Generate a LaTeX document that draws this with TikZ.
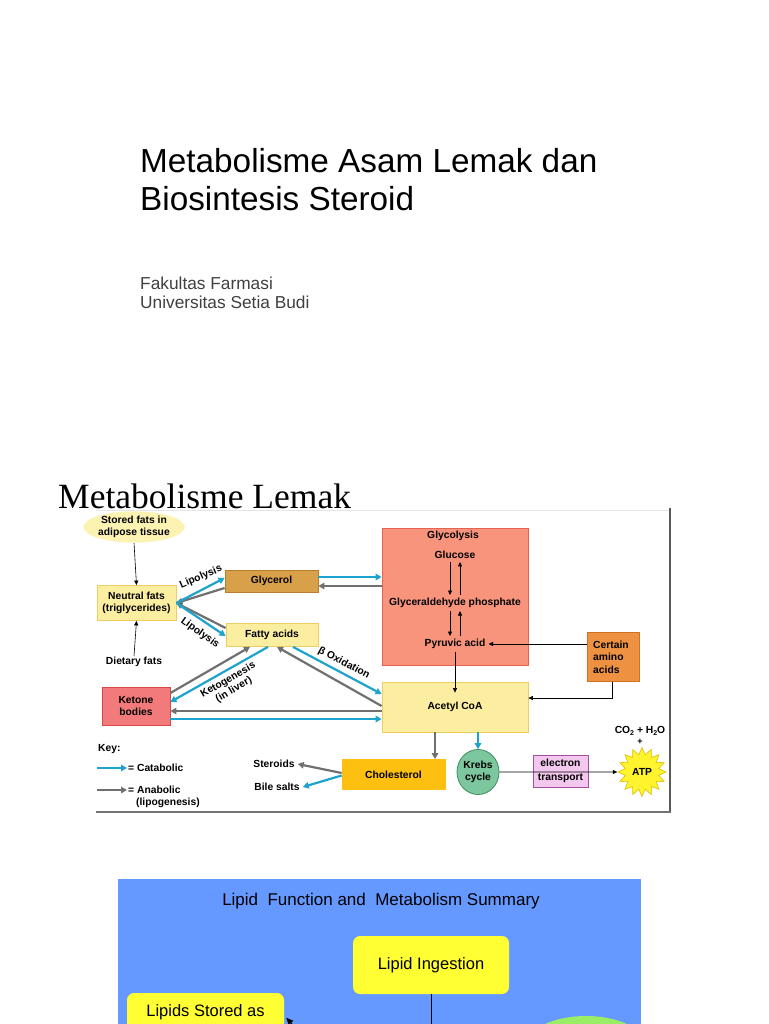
\documentclass[tikz,border=0pt]{standalone}
\usepackage{fontspec}
\setmainfont{Liberation Sans}
\newfontfamily\timesf{Liberation Serif}
\usetikzlibrary{arrows.meta,shapes.symbols,shapes.geometric}
\definecolor{catab}{RGB}{28,163,206}
\definecolor{anab}{RGB}{112,112,112}
\definecolor{lyel}{RGB}{252,238,160}
\definecolor{lyelb}{RGB}{238,206,96}
\definecolor{glyc}{RGB}{216,160,72}
\definecolor{glycb}{RGB}{184,126,48}
\definecolor{salmon}{RGB}{248,148,124}
\definecolor{salmonb}{RGB}{232,98,82}
\definecolor{amino}{RGB}{238,146,66}
\definecolor{aminob}{RGB}{208,112,36}
\definecolor{keto}{RGB}{242,122,122}
\definecolor{ketob}{RGB}{216,72,72}
\definecolor{chol}{RGB}{253,192,16}
\definecolor{krebs}{RGB}{124,199,158}
\definecolor{krebsb}{RGB}{62,140,96}
\definecolor{elec}{RGB}{244,200,238}
\definecolor{elecb}{RGB}{162,80,160}
\definecolor{atpy}{RGB}{255,244,46}
\definecolor{atpb}{RGB}{222,190,0}
\definecolor{blob}{RGB}{252,242,178}
\definecolor{panel}{RGB}{102,153,255}
\definecolor{lipy}{RGB}{255,255,51}
\definecolor{lgreen}{RGB}{153,238,102}
\definecolor{subgray}{RGB}{64,64,64}
\newcommand\lsub[1]{\raisebox{-0.35ex}{\fontsize{7}{7}\selectfont #1}}
\begin{document}
\begin{tikzpicture}[x=1pt,y=-1pt,
  t/.style={font=\fontsize{10.3}{12.5}\selectfont\bfseries, align=center, inner sep=1pt},
  bx/.style={t, draw, line width=0.8pt, inner sep=0pt},
  cat/.style={catab, line width=2.2pt, -{Triangle[length=6pt,width=6.5pt]}},
  ana/.style={anab, line width=2.2pt, -{Triangle[length=6pt,width=6.5pt]}},
  blk/.style={black, line width=0.6pt, -{Triangle[length=4.5pt,width=4pt]}},
  big/.style={font=\fontsize{17}{20}\selectfont, inner sep=0pt},
  rbox/.style={fill=lipy, rounded corners=7pt, font=\fontsize{16.5}{20}\selectfont, inner sep=0pt},
]
\useasboundingbox (0,0) rectangle (768,1024);
\fill[white] (0,0) rectangle (768,1024);

% ---------- titles ----------
\node[font=\fontsize{33.3}{38}\selectfont, anchor=base west, inner sep=0pt] (t1) at (140,173) {Metabolisme Asam Lemak dan};
\node[font=\fontsize{33.3}{38}\selectfont, anchor=base west, inner sep=0pt] (t2) at (140,211) {Biosintesis Steroid};
\node[font=\fontsize{17.3}{20}\selectfont, text=subgray, anchor=base west, inner sep=0pt] (f1) at (140,289) {Fakultas Farmasi};
\node[font=\fontsize{17.3}{20}\selectfont, text=subgray, anchor=base west, inner sep=0pt] (f2) at (140,308) {Universitas Setia Budi};
\node[font=\fontsize{35.5}{40}\selectfont\timesf, anchor=base west, inner sep=0pt] (t3) at (58,508) {Metabolisme Lemak};

% ---------- diagram frame ----------
\draw[black!10, line width=0.8pt] (96,510) -- (670,510);
\draw[black!65, line width=2pt] (670,508) -- (670,812);
\draw[black!55, line width=1.5pt] (96,812) -- (671,812);

% ---------- nodes ----------
\node[t, ellipse, fill=blob, minimum width=64pt, minimum height=30pt, inner sep=0pt] (sf) at (134,527) {Stored fats in\\adipose tissue};
\node[bx, fill=lyel, draw=lyelb, minimum width=79pt, minimum height=35pt] (nf) at (136.5,603) {Neutral fats\\(triglycerides)};
\node[t] (df) at (134,662) {Dietary fats};
\node[bx, fill=glyc, draw=glycb, minimum width=93pt, minimum height=22pt] (gl) at (271.5,581) {Glycerol};
\node[bx, fill=lyel, draw=lyelb, minimum width=92pt, minimum height=23pt] (fa) at (272,635) {Fatty acids};
\node[bx, fill=salmon, draw=salmonb, minimum width=146pt, minimum height=137pt] (gy) at (455,596.5) {};
\node[t] (gyt) at (453,536) {Glycolysis};
\node[t, inner sep=3pt] (glu) at (455,555) {Glucose};
\node[t, inner sep=3pt] (g3p) at (455,603) {Glyceraldehyde phosphate};
\node[t, inner sep=3pt] (py) at (455,644) {Pyruvic acid};
\node[bx, fill=amino, draw=aminob, minimum width=52pt, minimum height=49pt] (am) at (613,657) {};
\node[t, align=left, anchor=west] (amt) at (592,657) {Certain\\amino\\acids};
\node[bx, fill=lyel, draw=lyelb, minimum width=146pt, minimum height=50pt] (ac) at (455,707) {Acetyl CoA};
\node[bx, fill=keto, draw=ketob, minimum width=68pt, minimum height=38pt] (kb) at (136,706) {Ketone\\bodies};
\node[bx, fill=chol, draw=chol, minimum width=103pt, minimum height=30pt] (ch) at (393.5,774.5) {Cholesterol};
\node[t, ellipse, fill=krebs, draw=krebsb, line width=0.8pt, minimum width=42pt, minimum height=45pt, inner sep=0pt] (kr) at (478,772) {Krebs\\cycle};
\node[bx, fill=elec, draw=elecb, minimum width=55pt, minimum height=32pt, font=\fontsize{10.3}{14}\selectfont\bfseries] (el) at (560.5,771) {electron\\transport};
\node[t, starburst, starburst points=16, starburst point height=7pt, random starburst=0, fill=atpy, draw=atpb, line width=0.6pt, minimum width=48pt, minimum height=49pt, inner sep=0pt] (atp) at (642,772) {ATP};
\node[t] (co) at (640,731) {CO\lsub{2} + H\lsub{2}O};
\node[t, font=\fontsize{9}{9}\selectfont\bfseries] (pl) at (640,742) {+};
\node[t] (st) at (274,764) {Steroids};
\node[t] (bs) at (277,787) {Bile salts};

% key
\node[t, anchor=west] (key) at (97,749) {Key:};
\node[t, anchor=west] (kc) at (127,768) {= Catabolic};
\node[t, anchor=west] (ka) at (127,790) {= Anabolic};
\node[t, anchor=west] (kl) at (135,803) {(lipogenesis)};
\coordinate (kcs) at (97,768);
\coordinate (kas) at (97,790);
\draw[cat] (kcs) -- (kc.west);
\draw[ana] (kas) -- (ka.west);

% ---------- labels ----------
\node[t, rotate=23] (lp1) at (201,577) {Lipolysis};
\node[t, rotate=-36] (lp2) at (200,633) {Lipolysis};
\node[t, rotate=-28] (box) at (344,663) {β Oxidation};
\node[t, rotate=30, font=\fontsize{10.3}{11.5}\selectfont\bfseries] (kg) at (231,685) {Ketogenesis\\(in liver)};

% ---------- helper points ----------
\coordinate (g1) at ([yshift=4pt]gl.east);
\coordinate (g2) at ([yshift=-5pt]gl.east);
\coordinate (k1) at ([yshift=-5pt]kb.east);
\coordinate (k2) at ([yshift=-13pt]kb.east);
\coordinate (c1) at ([xshift=-20pt]ac.south);
\coordinate (a1) at ([yshift=9pt]ac.east);
\coordinate (a2) at ([xshift=-1pt]am.south);

% ---------- connectors ----------
\draw[blk] (sf.south) -- (nf.north);
\draw[blk] (df.north) -- (nf.south);

\draw[ana] ([yshift=-7pt]gl.west) -- (nf.east);
\draw[ana] ([yshift=7pt]fa.west) -- (nf.east);
\draw[cat] (nf.east) -- ([yshift=3pt]gl.west);
\draw[cat] (nf.east) -- ([yshift=-1pt]fa.west);

\draw[cat] (g1) -- (gy.west |- g1);
\draw[ana] (gy.west |- g2) -- (g2);

\draw[cat] ([xshift=21pt]fa.south) -- ([yshift=13pt]ac.west);
\draw[ana] ([yshift=1pt]ac.west) -- ([xshift=5pt]fa.south);
\draw[ana] ([yshift=13pt]kb.east) -- ([xshift=-22pt]fa.south);
\draw[cat] ([xshift=-4pt]fa.south) -- ([yshift=4pt]kb.east);

\draw[ana] (ac.west |- k1) -- (k1);
\draw[cat] (k2) -- (ac.west |- k2);

\draw[ana] (c1) -- (c1 |- ch.north);
\draw[cat] ([xshift=23pt]ac.south) -- (kr.north);

\draw[ana] ([yshift=1.5pt]ch.west) -- ([xshift=2pt]st.east);
\draw[cat] ([yshift=-1pt]ch.west) -- ([xshift=2pt]bs.east);

\draw[blk] ([xshift=-5pt]glu.south) -- ([xshift=-5pt]g3p.north);
\draw[blk] ([xshift=5pt]g3p.north) -- ([xshift=5pt]glu.south);
\draw[blk] ([xshift=-5pt]g3p.south) -- ([xshift=-5pt]py.north);
\draw[blk] ([xshift=5pt]py.north) -- ([xshift=5pt]g3p.south);
\draw[blk] (py.south) -- ([yshift=-11pt]ac.north);
\draw[blk] (am.west |- py.east) -- (py.east);
\draw[blk] (a2) |- (a1);
\draw[blk] (kr.east) -- (atp.west);

% ---------- lower panel ----------
\begin{scope}
\clip (0,0) rectangle (768,1024);
\fill[panel] (118,879) rectangle (641,1040);
\node[big] (lt) at (381,901) {Lipid\ \ Function and\ \ Metabolism Summary};
\node[rbox, minimum width=156pt, minimum height=58pt] (li) at (431,965) {Lipid Ingestion};
\node[rbox, minimum width=157pt, minimum height=64pt] (ls) at (205.5,1025) {};
\node[font=\fontsize{16.5}{20}\selectfont, inner sep=0pt] (lst) at (205.5,1012) {Lipids Stored as};
\fill[lgreen] (586,1046) ellipse [x radius=60, y radius=30];
\coordinate (lbot) at (431,1030);
\coordinate (lsa) at (297,1029);
\draw[black, line width=0.8pt] (li.south) -- (lbot);
\draw[black, line width=0.8pt, -{Triangle[length=7pt,width=6pt]}] (lsa) -- ([xshift=2pt,yshift=-25pt]ls.north east);
\end{scope}
\end{tikzpicture}
\end{document}
